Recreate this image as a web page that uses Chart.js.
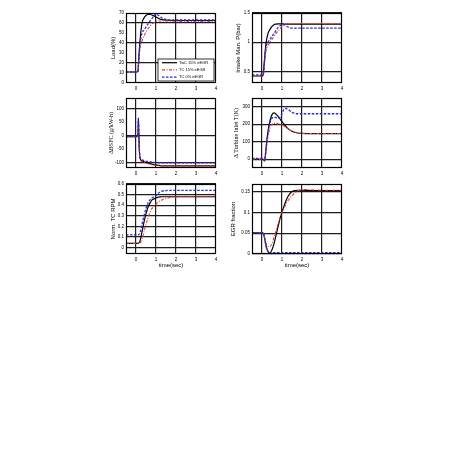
<!DOCTYPE html>
<html>
<head>
<meta charset="utf-8">
<script src="https://cdn.jsdelivr.net/npm/chart.js@4.4.1/dist/chart.umd.min.js"></script>
<style>
  html, body { margin: 0; padding: 0; background: #fff; }
  #wrap { position: relative; width: 474px; height: 474px; overflow: hidden; }
  .cell { position: absolute; width: 128px; height: 100px; }
</style>
</head>
<body>
<div id="wrap">
  <div class="cell" style="left:96px;top:8px"><canvas id="c1" width="128" height="100"></canvas></div>
  <div class="cell" style="left:222px;top:8px"><canvas id="c2" width="128" height="100"></canvas></div>
  <div class="cell" style="left:96px;top:93px"><canvas id="c3" width="128" height="100"></canvas></div>
  <div class="cell" style="left:222px;top:93px"><canvas id="c4" width="128" height="100"></canvas></div>
  <div class="cell" style="left:96px;top:179px"><canvas id="c5" width="128" height="100"></canvas></div>
  <div class="cell" style="left:222px;top:179px"><canvas id="c6" width="128" height="100"></canvas></div>
</div>
<script>
// time samples (sec) shared by every series
const tGrid = [-0.5, 0, 0.05, 0.1, 0.12, 0.15, 0.2, 0.3, 0.4, 0.5, 0.6, 0.7, 0.8, 0.9, 1.0, 1.1, 1.2, 1.3, 1.5, 1.8, 2.0, 2.5, 3.0, 4.0];
const seriesNames = ['TwC 15% eEGR', 'TC 15% eEGR', 'TC 0% eEGR'];
const xTicks = [0, 1, 2, 3, 4];

// Load (%)
const loadTwc  = [11, 11, 11, 11.5, 18, 28, 42, 60, 65, 67.5, 68.5, 68.5, 68, 67, 66, 65, 64, 63.3, 62.8, 62.5, 62.5, 62.5, 62.5, 62.5];
const loadTc15 = [11, 11, 11, 11.5, 16, 24, 35, 42, 47, 51, 54, 57, 59, 60.5, 61.5, 62, 62, 62, 62, 61.8, 61.7, 61.5, 61.5, 61.5];
const loadTc0  = [11, 11, 11, 11.5, 17, 26, 38, 50, 53, 56, 59, 62, 64.5, 67, 69, 68, 66.5, 65, 63.5, 63, 63, 63, 63, 63];
const loadTicks = [0, 10, 20, 30, 40, 50, 60, 70];

// Intake manifold pressure (bar)
const pimTwc  = [0.42, 0.42, 0.43, 0.6, 0.68, 0.8, 0.98, 1.15, 1.22, 1.27, 1.3, 1.31, 1.315, 1.315, 1.315, 1.31, 1.31, 1.31, 1.31, 1.31, 1.31, 1.31, 1.31, 1.31];
const pimTc15 = [0.42, 0.42, 0.42, 0.5, 0.6, 0.72, 0.85, 0.95, 1.0, 1.05, 1.1, 1.15, 1.19, 1.23, 1.27, 1.3, 1.315, 1.32, 1.32, 1.32, 1.32, 1.32, 1.32, 1.32];
const pimTc0  = [0.44, 0.44, 0.44, 0.55, 0.65, 0.78, 0.92, 1.0, 1.05, 1.1, 1.15, 1.2, 1.25, 1.28, 1.3, 1.3, 1.28, 1.26, 1.24, 1.24, 1.24, 1.24, 1.24, 1.24];
const pimTicks = [0.5, 1, 1.5];

// delta BSFC (g/kW-h)
const bsfcTwc  = [-4, -4, -4, 10, 65, -20, -82, -93, -97, -100, -102, -104, -106, -108, -109, -110, -111, -112, -112, -112, -112, -112, -112, -112];
const bsfcTc15 = [-4, -4, -4, 5, 35, -40, -88, -96, -99, -102, -104, -106, -108, -109, -110, -111, -112, -112, -112, -112, -112, -112, -112, -112];
const bsfcTc0  = [-3, -3, -3, 12, 65, -20, -80, -90, -93, -95, -96, -97, -98, -99, -100, -100, -101, -101, -101, -101, -101, -101, -101, -101];
const bsfcTicks = [-100, -50, 0, 50, 100];

// delta turbine inlet temperature (K)
const titTwc  = [0, 0, 0, -5, -10, 0, 60, 160, 220, 255, 265, 258, 245, 230, 215, 200, 187, 175, 160, 150, 148, 147, 147, 147];
const titTc15 = [0, 0, 0, -5, -10, -5, 50, 130, 180, 200, 205, 205, 203, 200, 195, 190, 183, 175, 160, 150, 148, 147, 147, 147];
const titTc0  = [5, 5, 5, 0, -8, 5, 60, 150, 210, 235, 240, 238, 235, 240, 262, 285, 290, 285, 268, 260, 260, 260, 260, 260];
const titTicks = [0, 100, 200, 300];

// normalised turbocharger speed
const rpmTwc  = [0.04, 0.04, 0.04, 0.04, 0.04, 0.045, 0.06, 0.15, 0.24, 0.32, 0.38, 0.42, 0.45, 0.46, 0.47, 0.475, 0.478, 0.48, 0.48, 0.48, 0.48, 0.48, 0.48, 0.48];
const rpmTc15 = [0.04, 0.04, 0.04, 0.04, 0.04, 0.04, 0.045, 0.08, 0.15, 0.22, 0.28, 0.33, 0.37, 0.39, 0.41, 0.43, 0.44, 0.45, 0.465, 0.475, 0.478, 0.48, 0.48, 0.48];
const rpmTc0  = [0.12, 0.12, 0.12, 0.12, 0.12, 0.125, 0.14, 0.22, 0.3, 0.37, 0.42, 0.45, 0.47, 0.48, 0.49, 0.51, 0.525, 0.533, 0.538, 0.54, 0.54, 0.54, 0.54, 0.54];
const rpmTicks = [0, 0.1, 0.2, 0.3, 0.4, 0.5, 0.6];

// EGR fraction
const egrTwc  = [0.051, 0.051, 0.051, 0.045, 0.04, 0.033, 0.02, 0.006, 0.003, 0.01, 0.025, 0.045, 0.065, 0.085, 0.1, 0.115, 0.128, 0.138, 0.15, 0.153, 0.153, 0.152, 0.152, 0.152];
const egrTc15 = [0.051, 0.051, 0.051, 0.046, 0.042, 0.036, 0.025, 0.018, 0.018, 0.025, 0.04, 0.055, 0.072, 0.088, 0.1, 0.11, 0.12, 0.128, 0.14, 0.152, 0.155, 0.154, 0.153, 0.153];
const egrTc0  = [0.051, 0.051, 0.051, 0.045, 0.04, 0.033, 0.02, 0.006, 0.003, 0.003, 0.003, 0.003, 0.003, 0.003, 0.003, 0.003, 0.003, 0.003, 0.003, 0.003, 0.003, 0.003, 0.003, 0.003];
const egrTicks = [0, 0.05, 0.1, 0.15];

const sans = '"Liberation Sans", Arial, sans-serif';
const serif = '"Liberation Serif", "Times New Roman", serif';
const gridColor = '#1e1e1e';

function toPts(ys) {
  return ys.map((y, i) => ({ x: tGrid[i], y: y }));
}

// black frame round the plot area
const boxPlugin = {
  id: 'box',
  afterDatasetsDraw(chart) {
    const { ctx, chartArea: a } = chart;
    ctx.save();
    ctx.strokeStyle = '#000';
    ctx.lineWidth = 1.2;
    ctx.strokeRect(a.left + 0.5, a.top + 0.5, a.right - a.left - 1, a.bottom - a.top - 1);
    ctx.restore();
  }
};

// legend boxed inside the lower right corner (first panel only)
const innerLegend = {
  id: 'innerLegend',
  afterDraw(chart, args, opts) {
    if (!opts.show) return;
    const { ctx, chartArea: a } = chart;
    const w = 56, h = 22;
    const x = a.right - 2 - w, y = a.bottom - 2 - h;
    ctx.save();
    ctx.fillStyle = '#fff';
    ctx.fillRect(x, y, w, h);
    ctx.strokeStyle = '#000';
    ctx.lineWidth = 0.8;
    ctx.strokeRect(x, y, w, h);
    ctx.font = '4px ' + sans;
    ctx.textBaseline = 'middle';
    chart.data.datasets.forEach((ds, i) => {
      const yy = y + 3.7 + i * 7.2;
      ctx.strokeStyle = ds.borderColor;
      ctx.lineWidth = ds.borderWidth;
      ctx.setLineDash(ds.borderDash || []);
      ctx.beginPath();
      ctx.moveTo(x + 4, yy);
      ctx.lineTo(x + 19, yy);
      ctx.stroke();
      ctx.setLineDash([]);
      ctx.fillStyle = '#000';
      ctx.fillText(ds.label, x + 21, yy);
    });
    ctx.restore();
  }
};

function makePanel(id, p) {
  const ctx = document.getElementById(id).getContext('2d');
  return new Chart(ctx, {
    type: 'line',
    data: {
      datasets: [
        { label: seriesNames[0], data: toPts(p.a), borderColor: '#000', borderWidth: 1.2, order: 2 },
        { label: seriesNames[1], data: toPts(p.b), borderColor: '#e8392f', borderWidth: 1.1, borderDash: [3, 1.5, 1, 1.5], order: 1 },
        { label: seriesNames[2], data: toPts(p.c), borderColor: '#2a2ad8', borderWidth: 1.3, borderDash: [2.5, 1.5], order: 0 }
      ]
    },
    options: {
      responsive: false,
      animation: false,
      events: [],
      layout: { padding: { top: 5, right: 8, left: 0, bottom: 0 } },
      elements: {
        point: { radius: 0 },
        line: { cubicInterpolationMode: 'monotone', fill: false }
      },
      plugins: {
        legend: { display: false },
        tooltip: { enabled: false },
        innerLegend: { show: !!p.legend }
      },
      scales: {
        x: {
          type: 'linear',
          min: -0.5,
          max: 4,
          afterBuildTicks: s => { s.ticks = xTicks.map(v => ({ value: v })); },
          afterFit: s => { s.height = 25; },
          grid: { color: c => (c.tick && c.tick.value < 4 ? gridColor : 'transparent'), lineWidth: 1.2, drawTicks: false },
          border: { display: false },
          ticks: { font: { family: sans, size: 4.5 }, color: '#000', padding: 3, maxRotation: 0, autoSkip: false, callback: v => String(v) },
          title: { display: !!p.xTitle, text: 'time(sec)', color: '#000', font: { family: sans, size: 6 }, padding: { top: 0, bottom: 9.7 } }
        },
        y: {
          type: 'linear',
          min: p.min,
          max: p.max,
          afterBuildTicks: s => { s.ticks = p.ticks.map(v => ({ value: v })); },
          afterFit: s => { s.width = 30; },
          grid: { color: c => (p.gridOk(c.tick ? c.tick.value : 0) ? gridColor : 'transparent'), lineWidth: 1.2, drawTicks: false },
          border: { display: false },
          ticks: { font: { family: sans, size: 4.5 }, color: '#000', padding: 2, autoSkip: false, callback: v => String(v) },
          title: { display: true, text: p.title, color: '#000', font: { family: p.serif ? serif : sans, size: 6 }, padding: { top: 30 - p.d - 3.6, bottom: 0 } }
        }
      }
    },
    plugins: [boxPlugin, innerLegend]
  });
}

const every = () => true;

makePanel('c1', { a: loadTwc, b: loadTc15, c: loadTc0, min: 0, max: 70, ticks: loadTicks,
  gridOk: v => v % 20 === 0 && v > 0 && v < 70, title: 'Load(%)', d: 13, legend: true });
makePanel('c2', { a: pimTwc, b: pimTc15, c: pimTc0, min: 0.3, max: 1.5, ticks: pimTicks,
  gridOk: every, title: 'Intake Man. P(bar)', d: 14 });
makePanel('c3', { a: bsfcTwc, b: bsfcTc15, c: bsfcTc0, min: -120, max: 140, ticks: bsfcTicks,
  gridOk: v => v % 100 === 0, title: '\u0394BSFC (g/kW-h)', d: 15, serif: true });
makePanel('c4', { a: titTwc, b: titTc15, c: titTc0, min: -50, max: 350, ticks: titTicks,
  gridOk: every, title: '\u0394 Turbine Inlet T(K)', d: 15.5, serif: true });
makePanel('c5', { a: rpmTwc, b: rpmTc15, c: rpmTc0, min: -0.06, max: 0.6, ticks: rpmTicks,
  gridOk: every, title: 'Norm. TC RPM', d: 13, xTitle: true });
makePanel('c6', { a: egrTwc, b: egrTc15, c: egrTc0, min: 0, max: 0.168, ticks: egrTicks,
  gridOk: every, title: 'EGR fraction', d: 18.5, xTitle: true });
</script>
</body>
</html>
